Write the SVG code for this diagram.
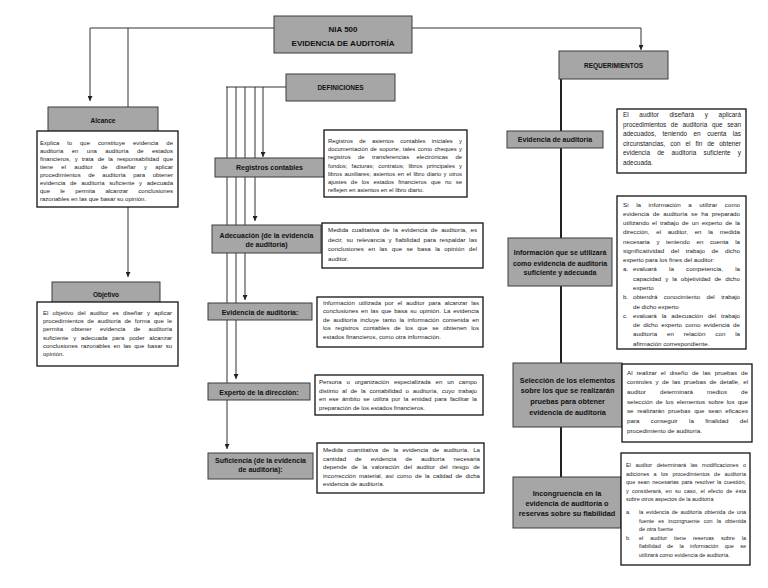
<svg xmlns="http://www.w3.org/2000/svg" width="768" height="588" viewBox="0 0 768 588">
<style>
.g{fill:#a6a6a6;stroke:#3c3c3c;stroke-width:1}
.t{fill:#ffffff;stroke:#111;stroke-width:1.3}
.lb{font-family:"Liberation Sans",Arial,sans-serif;font-weight:bold;fill:#111;text-anchor:middle}
.tx{font-family:"Liberation Sans",Arial,sans-serif;fill:#222}
.c{fill:none;stroke:#333;stroke-width:1}
.trunk{fill:none;stroke:#222;stroke-width:2}
</style>
<defs>
<marker id="ar" markerUnits="userSpaceOnUse" markerWidth="5" markerHeight="5" refX="5" refY="2.5" orient="auto">
<path d="M0,0 L5,2.5 L0,5 z" fill="#222"/>
</marker>
</defs>
<rect width="768" height="588" fill="#fff"/>

<g id="connectors">
<path class="c" d="M90,28 H274 M412,28 H641"/>
<path class="c" d="M90,28 V101" marker-end="url(#ar)"/>
<path class="c" d="M128,28 V107"/>
<path class="c" d="M128,207 V277" marker-end="url(#ar)"/>
<path class="c" d="M641,28 V50" marker-end="url(#ar)"/>
<path class="c" d="M286,87 H226"/>
<path class="c" d="M263,87 V157" marker-end="url(#ar)"/>
<path class="c" d="M255,87 V221" marker-end="url(#ar)"/>
<path class="c" d="M245,87 V300" marker-end="url(#ar)"/>
<path class="c" d="M236,87 V379" marker-end="url(#ar)"/>
<path class="c" d="M227,87 V449" marker-end="url(#ar)"/>
<path class="trunk" d="M561,79 V477"/>
</g>

<g id="title">
<rect class="g" x="274" y="16" width="138" height="37"/>
<text class="lb" x="343" y="31.5" font-size="8">NIA 500</text>
<text class="lb" x="343" y="45.5" font-size="8">EVIDENCIA DE AUDITORÍA</text>
</g>

<g id="requerimientos">
<rect class="g" x="559" y="51" width="109" height="28"/>
<text class="lb" x="613.5" y="68" font-size="6.5">REQUERIMIENTOS</text>
</g>

<g id="definiciones">
<rect class="g" x="286" y="74" width="109" height="27"/>
<text class="lb" x="340.5" y="89.5" font-size="6.5">DEFINICIONES</text>
</g>

<g id="alcance">
<rect class="g" x="48" y="107" width="110" height="25"/>
<text class="lb" x="103" y="122.5" font-size="6.5">Alcance</text>
<rect class="t" x="37" y="131" width="141" height="76"/>
<g class="tx" font-size="6">
<text x="40" y="144.5" word-spacing="6.3" textLength="133" lengthAdjust="spacing">Explica lo que constituye evidencia de</text>
<text x="40" y="152.5" word-spacing="6.7" textLength="133" lengthAdjust="spacing">auditoría en una auditoría de estados</text>
<text x="40" y="160.5" word-spacing="2.3" textLength="133" lengthAdjust="spacing">financieros, y trata de la responsabilidad que</text>
<text x="40" y="168.5" word-spacing="6.7" textLength="133" lengthAdjust="spacing">tiene el auditor de diseñar y aplicar</text>
<text x="40" y="176.5" word-spacing="5.8" textLength="133" lengthAdjust="spacing">procedimientos de auditoría para obtener</text>
<text x="40" y="184.5" word-spacing="2.9" textLength="133" lengthAdjust="spacing">evidencia de auditoría suficiente y adecuada</text>
<text x="40" y="192.5" word-spacing="8.6" textLength="133" lengthAdjust="spacing">que le permita alcanzar conclusiones</text>
<text x="40" y="200.5">razonables en las que basar su opinión.</text>
</g>
</g>

<g id="objetivo">
<rect class="g" x="52" y="282" width="108" height="24"/>
<text class="lb" x="106" y="296.5" font-size="6.5">Objetivo</text>
<rect class="t" x="37" y="302" width="141" height="64"/>
<g class="tx" font-size="6">
<text x="43" y="315" word-spacing="2.6" textLength="129" lengthAdjust="spacing">El objetivo del auditor es diseñar y aplicar</text>
<text x="43" y="323.2" word-spacing="1.9" textLength="129" lengthAdjust="spacing">procedimientos de auditoría de forma que le</text>
<text x="43" y="331.4" word-spacing="6.6" textLength="129" lengthAdjust="spacing">permita obtener evidencia de auditoría</text>
<text x="43" y="339.6" word-spacing="3.2" textLength="129" lengthAdjust="spacing">suficiente y adecuada para poder alcanzar</text>
<text x="43" y="347.8" word-spacing="1.5" textLength="129" lengthAdjust="spacing">conclusiones razonables en las que basar su</text>
<text x="43" y="356">opinión.</text>
</g>
</g>

<g id="registros">
<rect class="g" x="215" y="158" width="109" height="19"/>
<text class="lb" x="269.5" y="170" font-size="7">Registros contables</text>
<rect class="t" x="324" y="130" width="143" height="67"/>
<g class="tx" font-size="5.9">
<text x="328" y="143" word-spacing="4.6" textLength="134" lengthAdjust="spacing">Registros de asientos contables iniciales y</text>
<text x="328" y="151.2" word-spacing="0.7" textLength="134" lengthAdjust="spacing">documentación de soporte, tales como cheques y</text>
<text x="328" y="159.4" word-spacing="5.8" textLength="134" lengthAdjust="spacing">registros de transferencias electrónicas de</text>
<text x="328" y="167.6" word-spacing="2.5" textLength="134" lengthAdjust="spacing">fondos; facturas; contratos; libros principales y</text>
<text x="328" y="175.8" word-spacing="0.7" textLength="134" lengthAdjust="spacing">libros auxiliares; asientos en el libro diario y otros</text>
<text x="328" y="184" word-spacing="2.6" textLength="134" lengthAdjust="spacing">ajustes de los estados financieros que no se</text>
<text x="328" y="192.2">reflejen en asientos en el libro diario.</text>
</g>
</g>

<g id="adecuacion">
<rect class="g" x="212" y="225" width="109" height="28"/>
<text class="lb" x="266.5" y="237.5" font-size="7">Adecuación (de la evidencia</text>
<text class="lb" x="266.5" y="246.5" font-size="7">de auditoría)</text>
<rect class="t" x="322" y="223" width="161" height="45"/>
<g class="tx" font-size="6.2">
<text x="328" y="232" word-spacing="1.7" textLength="149" lengthAdjust="spacing">Medida cualitativa de la evidencia de auditoría, es</text>
<text x="328" y="241.5" word-spacing="1.9" textLength="149" lengthAdjust="spacing">decir, su relevancia y fiabilidad para respaldar las</text>
<text x="328" y="251" word-spacing="2.6" textLength="149" lengthAdjust="spacing">conclusiones en las que se basa la opinión del</text>
<text x="328" y="260.5">auditor.</text>
</g>
</g>

<g id="evidencia-def">
<rect class="g" x="208" y="303" width="104" height="17"/>
<text class="lb" x="260" y="314.5" font-size="7">Evidencia de auditoría:</text>
<rect class="t" x="317" y="297" width="166" height="50"/>
<g class="tx" font-size="6.1">
<text x="323" y="304.5" word-spacing="2.1" textLength="156" lengthAdjust="spacing">Información utilizada por el auditor para alcanzar las</text>
<text x="323" y="313" word-spacing="1.1" textLength="156" lengthAdjust="spacing">conclusiones en las que basa su opinión. La evidencia</text>
<text x="323" y="321.5" word-spacing="1.7" textLength="156" lengthAdjust="spacing">de auditoría incluye tanto la información contenida en</text>
<text x="323" y="330" word-spacing="2.8" textLength="156" lengthAdjust="spacing">los registros contables de los que se obtienen los</text>
<text x="323" y="338.5">estados financieros, como otra información.</text>
</g>
</g>

<g id="experto">
<rect class="g" x="208" y="383" width="102" height="17"/>
<text class="lb" x="259" y="394.5" font-size="7">Experto de la dirección:</text>
<rect class="t" x="315" y="375" width="168" height="40"/>
<g class="tx" font-size="6.1">
<text x="319" y="384" word-spacing="3.2" textLength="158" lengthAdjust="spacing">Persona u organización especializada en un campo</text>
<text x="319" y="392.5" word-spacing="2" textLength="158" lengthAdjust="spacing">distinto al de la contabilidad o auditoría, cuyo trabajo</text>
<text x="319" y="401" word-spacing="1.5" textLength="158" lengthAdjust="spacing">en ese ámbito se utiliza por la entidad para facilitar la</text>
<text x="319" y="409.5">preparación de los estados financieros.</text>
</g>
</g>

<g id="suficiencia">
<rect class="g" x="208" y="453" width="105" height="26"/>
<text class="lb" x="260.5" y="462.5" font-size="7">Suficiencia (de la evidencia</text>
<text class="lb" x="260.5" y="471.5" font-size="7">de auditoría):</text>
<rect class="t" x="317" y="443" width="167" height="50"/>
<g class="tx" font-size="6.1">
<text x="323" y="452" word-spacing="2.6" textLength="157" lengthAdjust="spacing">Medida cuantitativa de la evidencia de auditoría. La</text>
<text x="323" y="460.5" word-spacing="7.2" textLength="157" lengthAdjust="spacing">cantidad de evidencia de auditoría necesaria</text>
<text x="323" y="469" word-spacing="2.7" textLength="157" lengthAdjust="spacing">depende de la valoración del auditor del riesgo de</text>
<text x="323" y="477.5" word-spacing="1.5" textLength="157" lengthAdjust="spacing">incorrección material, así como de la calidad de dicha</text>
<text x="323" y="486">evidencia de auditoría.</text>
</g>
</g>

<g id="req-evidencia">
<rect class="g" x="507" y="131" width="96" height="17"/>
<text class="lb" x="555" y="142" font-size="7">Evidencia de auditoría</text>
<rect class="t" x="617" y="109" width="129" height="64"/>
<g class="tx" font-size="6.4">
<text x="623" y="117" word-spacing="8.9" textLength="118" lengthAdjust="spacing">El auditor diseñará y aplicará</text>
<text x="623" y="126.5" word-spacing="2.8" textLength="118" lengthAdjust="spacing">procedimientos de auditoría que sean</text>
<text x="623" y="136" word-spacing="4.7" textLength="118" lengthAdjust="spacing">adecuados, teniendo en cuenta las</text>
<text x="623" y="145.5" word-spacing="3.2" textLength="118" lengthAdjust="spacing">circunstancias, con el fin de obtener</text>
<text x="623" y="155" word-spacing="5.4" textLength="118" lengthAdjust="spacing">evidencia de auditoría suficiente y</text>
<text x="623" y="164.5">adecuada.</text>
</g>
</g>

<g id="req-informacion">
<rect class="g" x="508" y="238" width="104" height="48"/>
<text class="lb" x="560" y="255" font-size="7">Información que se utilizará</text>
<text class="lb" x="560" y="265.5" font-size="7">como evidencia de auditoría</text>
<text class="lb" x="560" y="275" font-size="7">suficiente y adecuada</text>
<rect class="t" x="617" y="196" width="129" height="153"/>
<g class="tx" font-size="6.2">
<text x="623" y="206.5" word-spacing="5.9" textLength="117" lengthAdjust="spacing">Si la información a utilizar como</text>
<text x="623" y="215.8" word-spacing="1.9" textLength="117" lengthAdjust="spacing">evidencia de auditoría se ha preparado</text>
<text x="623" y="225" word-spacing="1.3" textLength="117" lengthAdjust="spacing">utilizando el trabajo de un experto de la</text>
<text x="623" y="234.3" word-spacing="4.9" textLength="117" lengthAdjust="spacing">dirección, el auditor, en la medida</text>
<text x="623" y="243.6" word-spacing="4.9" textLength="117" lengthAdjust="spacing">necesaria y teniendo en cuenta la</text>
<text x="623" y="252.9" word-spacing="4.6" textLength="117" lengthAdjust="spacing">significatividad del trabajo de dicho</text>
<text x="623" y="262.1">experto para los fines del auditor:</text>
<text x="623" y="271.4">a.</text>
<text x="633" y="271.4" word-spacing="10.5" textLength="107" lengthAdjust="spacing">evaluará la competencia, la</text>
<text x="633" y="280.7" word-spacing="2.2" textLength="107" lengthAdjust="spacing">capacidad y la objetividad de dicho</text>
<text x="633" y="290">experto</text>
<text x="623" y="299.2">b.</text>
<text x="633" y="299.2" word-spacing="4.7" textLength="107" lengthAdjust="spacing">obtendrá conocimiento del trabajo</text>
<text x="633" y="308.5">de dicho experto</text>
<text x="623" y="317.8">c.</text>
<text x="633" y="317.8" word-spacing="3.2" textLength="107" lengthAdjust="spacing">evaluará la adecuación del trabajo</text>
<text x="633" y="327" word-spacing="1.6" textLength="107" lengthAdjust="spacing">de dicho experto como evidencia de</text>
<text x="633" y="336.3" word-spacing="8.1" textLength="107" lengthAdjust="spacing">auditoría en relación con la</text>
<text x="633" y="345.5">afirmación correspondiente.</text>
</g>
</g>

<g id="req-seleccion">
<rect class="g" x="513" y="363" width="109" height="64"/>
<text class="lb" x="567.5" y="382.5" font-size="7.3">Selección de los elementos</text>
<text class="lb" x="567.5" y="393" font-size="7.3">sobre los que se realizarán</text>
<text class="lb" x="567.5" y="404" font-size="7.3">pruebas para obtener</text>
<text class="lb" x="567.5" y="414.5" font-size="7.3">evidencia de auditoría</text>
<rect class="t" x="622" y="364" width="130" height="78"/>
<g class="tx" font-size="6.2">
<text x="627" y="374.5" word-spacing="2.3" textLength="121" lengthAdjust="spacing">Al realizar el diseño de las pruebas de</text>
<text x="627" y="384" word-spacing="1.7" textLength="121" lengthAdjust="spacing">controles y de las pruebas de detalle, el</text>
<text x="627" y="394" word-spacing="12.4" textLength="121" lengthAdjust="spacing">auditor determinará medios de</text>
<text x="627" y="403.5" word-spacing="1.3" textLength="121" lengthAdjust="spacing">selección de los elementos sobre los que</text>
<text x="627" y="413" word-spacing="1.9" textLength="121" lengthAdjust="spacing">se realizarán pruebas que sean eficaces</text>
<text x="627" y="423" word-spacing="9.7" textLength="121" lengthAdjust="spacing">para conseguir la finalidad del</text>
<text x="627" y="432.5">procedimiento de auditoría.</text>
</g>
</g>

<g id="req-incongruencia">
<rect class="g" x="513" y="477" width="108" height="51"/>
<text class="lb" x="567" y="496" font-size="7.3">Incongruencia en la</text>
<text class="lb" x="567" y="506" font-size="7.3">evidencia de auditoría o</text>
<text class="lb" x="567" y="515.5" font-size="7.3">reservas sobre su fiabilidad</text>
<rect class="t" x="621" y="453" width="129" height="112"/>
<g class="tx" font-size="5.5">
<text x="626" y="467" word-spacing="3" textLength="120" lengthAdjust="spacing">El auditor determinará las modificaciones o</text>
<text x="626" y="475.5" word-spacing="2.8" textLength="120" lengthAdjust="spacing">adiciones a los procedimientos de auditoría</text>
<text x="626" y="484" word-spacing="1" textLength="120" lengthAdjust="spacing">que sean necesarias para resolver la cuestión,</text>
<text x="626" y="492.5" word-spacing="1.7" textLength="120" lengthAdjust="spacing">y considerará, en su caso, el efecto de ésta</text>
<text x="626" y="501">sobre otros aspectos de la auditoría</text>
<text x="626" y="514">a.</text>
<text x="639" y="514" word-spacing="1.1" textLength="107" lengthAdjust="spacing">la evidencia de auditoría obtenida de una</text>
<text x="639" y="522.5" word-spacing="2.6" textLength="107" lengthAdjust="spacing">fuente es incongruente con la obtenida</text>
<text x="639" y="531">de otra fuente</text>
<text x="626" y="539.5">b.</text>
<text x="639" y="539.5" word-spacing="5.4" textLength="107" lengthAdjust="spacing">el auditor tiene reservas sobre la</text>
<text x="639" y="548" word-spacing="4.8" textLength="107" lengthAdjust="spacing">fiabilidad de la información que se</text>
<text x="639" y="556.5">utilizará como evidencia de auditoría.</text>
</g>
</g>
</svg>
